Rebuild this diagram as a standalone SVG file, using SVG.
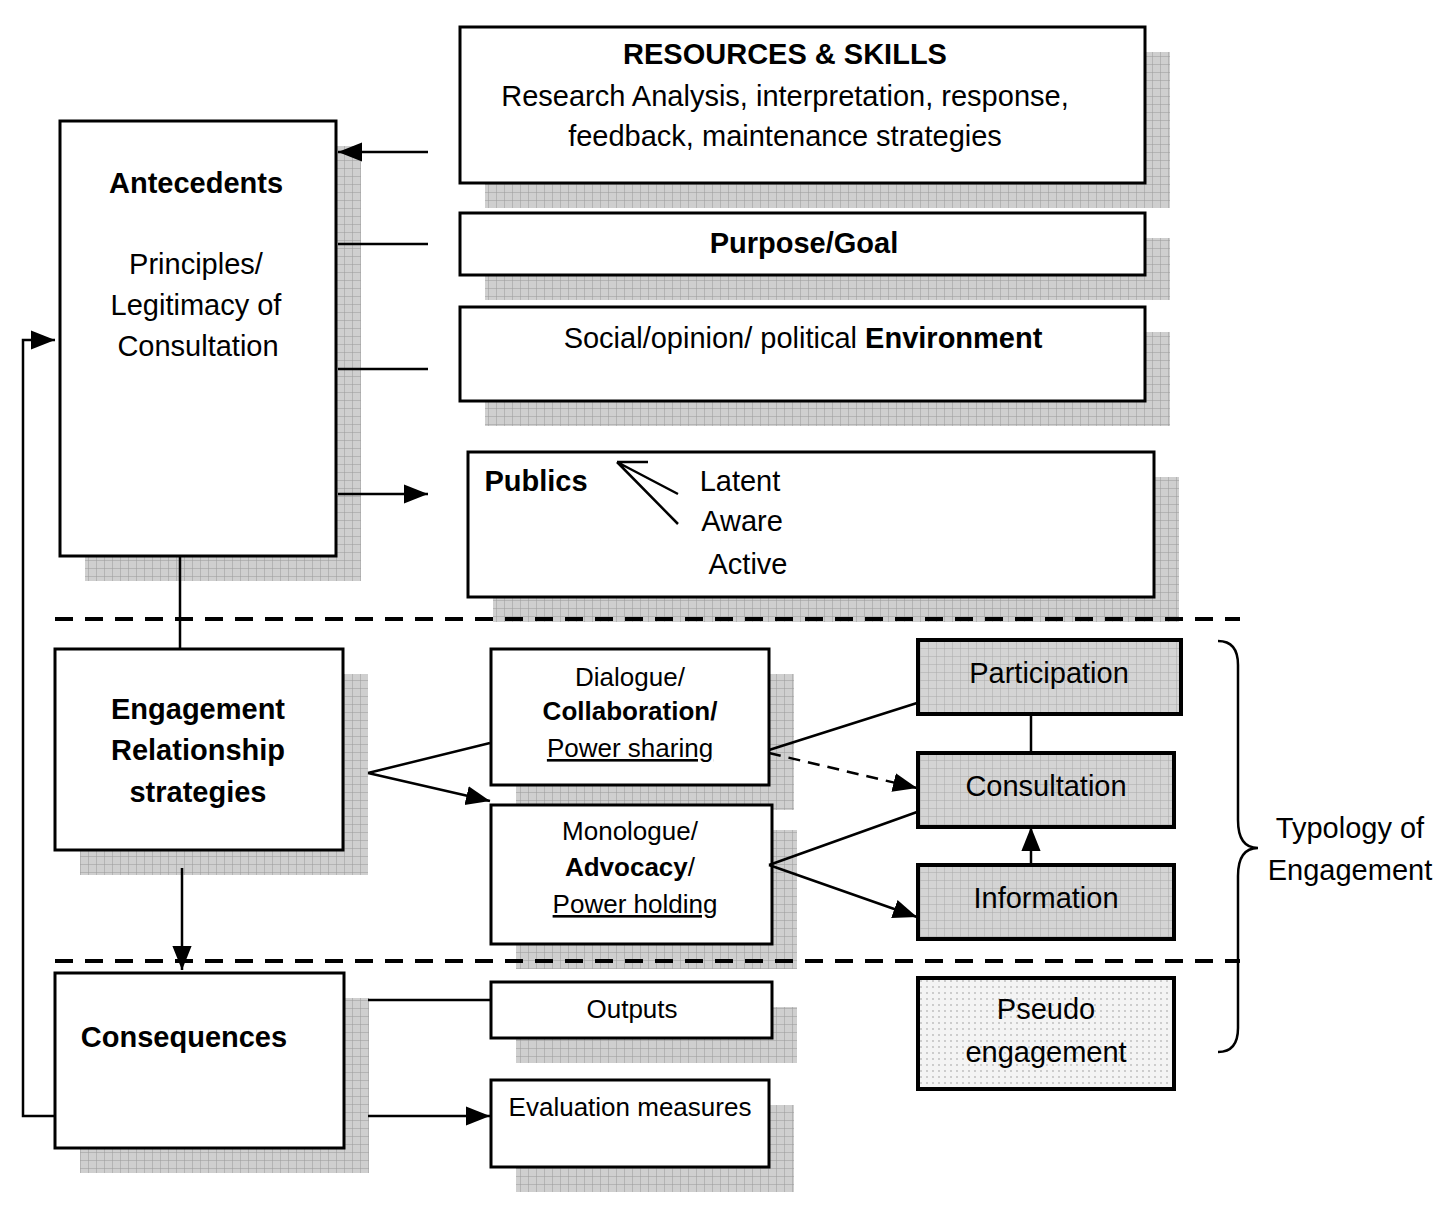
<svg xmlns="http://www.w3.org/2000/svg" width="1453" height="1213" viewBox="0 0 1453 1213">
<defs>
<pattern id="grid" width="8" height="8" patternUnits="userSpaceOnUse"><rect width="8" height="8" fill="#cfcfcf"/><path d="M0 0H8M0 0V8" stroke="#9a9a9a" stroke-width="1"/></pattern>
<pattern id="grid2" width="8" height="8" patternUnits="userSpaceOnUse"><rect width="8" height="8" fill="#d4d4d4"/><path d="M0 0H8M0 0V8" stroke="#aaa" stroke-width="1"/></pattern>
<pattern id="dots" width="6" height="6" patternUnits="userSpaceOnUse"><rect width="6" height="6" fill="#f4f4f4"/><circle cx="3" cy="3" r="0.9" fill="#bbb"/></pattern>
<marker id="ah" viewBox="0 0 10 10" refX="10" refY="5" markerWidth="8" markerHeight="8" markerUnits="userSpaceOnUse" orient="auto-start-reverse"><path d="M0 0L10 5L0 10Z" fill="#000"/></marker>
<marker id="a" viewBox="0 0 10 10" refX="10" refY="5" markerWidth="24" markerHeight="24" markerUnits="userSpaceOnUse" orient="auto-start-reverse"><path d="M0 1L10 5L0 9Z" fill="#000"/></marker>
</defs>
<style>
.b{fill:#fff;stroke:#000;stroke-width:3}
.s{fill:url(#grid)}
.g{fill:url(#grid2);stroke:#000;stroke-width:4}
.c{stroke:#000;stroke-width:2.5;fill:none}
text{font-family:"Liberation Sans Narrow","Liberation Sans",Arial,sans-serif;font-size:29px;fill:#000;text-anchor:middle}
.bd{font-weight:bold}
.sm{font-size:26px}
</style>
<rect width="1453" height="1213" fill="#fff"/>
<g id="antecedents"><rect class="s" x="85" y="146" width="276" height="435"/><rect class="b" x="60" y="121" width="276" height="435"/>
<text x="196" y="193" class="bd">Antecedents</text><text x="196" y="274">Principles/</text><text x="196" y="315">Legitimacy of</text><text x="198" y="356">Consultation</text></g>
<g id="resources"><rect class="s" x="485" y="52" width="685" height="156"/><rect class="b" x="460" y="27" width="685" height="156"/>
<text x="785" y="64" class="bd">RESOURCES &amp; SKILLS</text><text x="785" y="106">Research Analysis, interpretation, response,</text><text x="785" y="146">feedback, maintenance strategies</text></g>
<g id="purpose"><rect class="s" x="485" y="238" width="685" height="62"/><rect class="b" x="460" y="213" width="685" height="62"/><text x="804" y="253" class="bd">Purpose/Goal</text></g>
<g id="environment"><rect class="s" x="485" y="332" width="685" height="94"/><rect class="b" x="460" y="307" width="685" height="94"/><text x="803" y="348">Social/opinion/ political <tspan class="bd">Environment</tspan></text></g>
<g id="publics"><rect class="s" x="493" y="477" width="686" height="145"/><rect class="b" x="468" y="452" width="686" height="145"/>
<text x="536" y="491" class="bd">Publics</text><text x="740" y="491">Latent</text><text x="742" y="531">Aware</text><text x="748" y="574">Active</text>
<path class="c" d="M678 494L617 462M678 524L617 462M617 462H648"/></g>
<g id="engagement"><rect class="s" x="80" y="674" width="288" height="201"/><rect class="b" x="55" y="649" width="288" height="201"/>
<text x="198" y="719" class="bd">Engagement</text><text x="198" y="760" class="bd">Relationship</text><text x="198" y="802" class="bd">strategies</text></g>
<g id="dialogue"><rect class="s" x="516" y="674" width="278" height="136"/><rect class="b" x="491" y="649" width="278" height="136"/>
<text x="630" y="686" class="sm">Dialogue/</text><text x="630" y="720" class="sm bd">Collaboration/</text><text x="630" y="757" class="sm" text-decoration="underline">Power sharing</text></g>
<g id="monologue"><rect class="s" x="516" y="830" width="281" height="139"/><rect class="b" x="491" y="805" width="281" height="139"/>
<text x="630" y="840" class="sm">Monologue/</text><text x="630" y="876" class="sm"><tspan class="bd">Advocacy</tspan>/</text><text x="635" y="913" class="sm" text-decoration="underline">Power holding</text></g>
<g id="participation"><rect class="g" x="918" y="640" width="263" height="74"/><text x="1049" y="683">Participation</text></g>
<g id="consultation"><rect class="g" x="918" y="753" width="256" height="74"/><text x="1046" y="796">Consultation</text></g>
<g id="information"><rect class="g" x="918" y="865" width="256" height="74"/><text x="1046" y="908">Information</text></g>
<g id="pseudo"><rect x="918" y="978" width="256" height="111" fill="url(#dots)" stroke="#000" stroke-width="4"/><text x="1046" y="1019">Pseudo</text><text x="1046" y="1062">engagement</text></g>
<g id="consequences"><rect class="s" x="80" y="998" width="289" height="175"/><rect class="b" x="55" y="973" width="289" height="175"/><text x="184" y="1047" class="bd">Consequences</text></g>
<g id="outputs"><rect class="s" x="516" y="1007" width="281" height="56"/><rect class="b" x="491" y="982" width="281" height="56"/><text x="632" y="1018" class="sm">Outputs</text></g>
<g id="evaluation"><rect class="s" x="516" y="1105" width="278" height="87"/><rect class="b" x="491" y="1080" width="278" height="87"/><text x="630" y="1116" class="sm">Evaluation measures</text></g>
<g id="typology"><path class="c" d="M1218 641Q1238 641 1238 665V820Q1238 848 1258 848Q1238 848 1238 876V1028Q1238 1052 1218 1052"/>
<text x="1350" y="838">Typology of</text><text x="1350" y="880">Engagement</text></g>
<g id="connectors">
<path d="M55 619H1240M55 961H1240" stroke="#000" stroke-width="4" stroke-dasharray="18 12" fill="none"/>
<path class="c" d="M338 152H428M338 244H428M338 369H428M338 494H428" marker-start="url(#a)" marker-end="url(#a)"/>
<path class="c" d="M180 556V648M182 868V970" marker-end="url(#a)"/>
<path class="c" d="M55 1116H23V340H55" marker-end="url(#a)"/>
<path class="c" d="M368 773L490 743M368 773L490 801" marker-end="url(#a)"/>
<path class="c" d="M769 750L917 703M769 865L917 812M769 865L917 917" marker-end="url(#a)"/>
<path class="c" d="M769 753L917 788" stroke-dasharray="12 8" marker-end="url(#a)"/>
<path class="c" d="M1031 753V714M1031 865V827" marker-end="url(#a)"/>
<path class="c" d="M368 1000H490M368 1116H490" marker-end="url(#a)"/>
</g>
</svg>
